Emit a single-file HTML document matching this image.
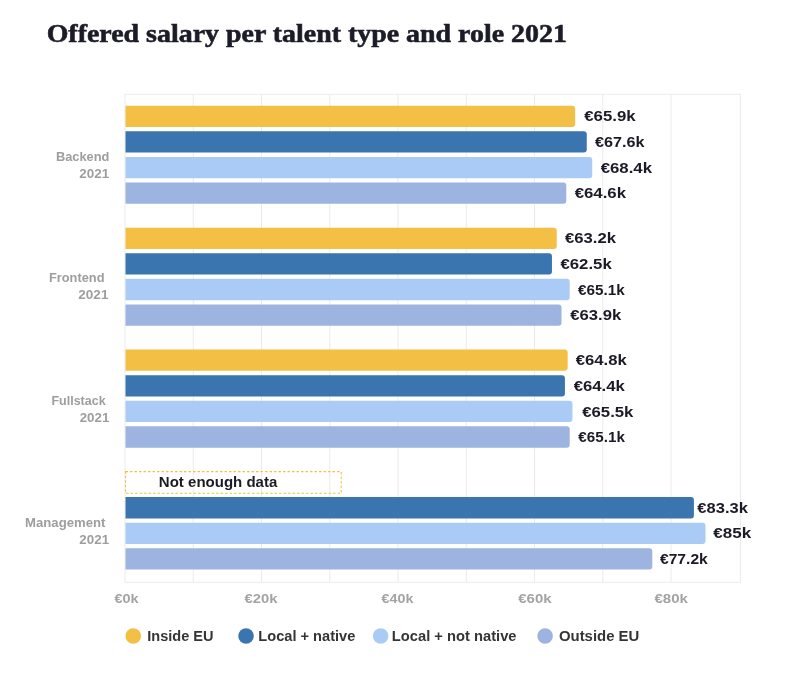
<!DOCTYPE html>
<html><head><meta charset="utf-8"><style>
html,body{margin:0;padding:0;background:#fff;}
body{width:796px;height:675px;overflow:hidden;position:relative;}
svg{position:absolute;left:0;top:0;filter:blur(0.35px);}
text{font-family:"Liberation Sans",sans-serif;font-weight:bold;}
.title{font-family:"Liberation Serif",serif;font-size:26px;}
.val{font-size:14px;}
.ylab{font-size:12px;}
.xlab{font-size:12px;}
.ned{font-size:14px;}
.leg{font-size:14px;}

</style></head><body>
<svg width="796" height="675" viewBox="0 0 796 675">
<g stroke="#ebebeb" stroke-width="1"><line x1="125.00" y1="94.3" x2="125.00" y2="582.3"/><line x1="193.25" y1="94.3" x2="193.25" y2="582.3"/><line x1="261.50" y1="94.3" x2="261.50" y2="582.3"/><line x1="329.75" y1="94.3" x2="329.75" y2="582.3"/><line x1="398.00" y1="94.3" x2="398.00" y2="582.3"/><line x1="466.25" y1="94.3" x2="466.25" y2="582.3"/><line x1="534.50" y1="94.3" x2="534.50" y2="582.3"/><line x1="602.75" y1="94.3" x2="602.75" y2="582.3"/><line x1="671.00" y1="94.3" x2="671.00" y2="582.3"/><line x1="740.40" y1="94.3" x2="740.40" y2="582.3"/><line x1="124.5" y1="94.3" x2="740.9" y2="94.3"/><line x1="124.5" y1="582.3" x2="740.9" y2="582.3"/></g>
<path fill="#F3C045" d="M125.50 105.72H572.17A3 3 0 0 1 575.17 108.72V124.02A3 3 0 0 1 572.17 127.02H125.50Z"/><path fill="#3A75AF" d="M125.50 131.32H583.77A3 3 0 0 1 586.77 134.32V149.62A3 3 0 0 1 583.77 152.62H125.50Z"/><path fill="#A9CBF5" d="M125.50 156.92H589.23A3 3 0 0 1 592.23 159.92V175.22A3 3 0 0 1 589.23 178.22H125.50Z"/><path fill="#9EB4E0" d="M125.50 182.52H563.29A3 3 0 0 1 566.29 185.52V200.82A3 3 0 0 1 563.29 203.82H125.50Z"/><path fill="#F3C045" d="M125.50 227.64H553.74A3 3 0 0 1 556.74 230.64V245.94A3 3 0 0 1 553.74 248.94H125.50Z"/><path fill="#3A75AF" d="M125.50 253.24H548.96A3 3 0 0 1 551.96 256.24V271.54A3 3 0 0 1 548.96 274.54H125.50Z"/><path fill="#A9CBF5" d="M125.50 278.84H566.71A3 3 0 0 1 569.71 281.84V297.14A3 3 0 0 1 566.71 300.14H125.50Z"/><path fill="#9EB4E0" d="M125.50 304.44H558.52A3 3 0 0 1 561.52 307.44V322.74A3 3 0 0 1 558.52 325.74H125.50Z"/><path fill="#F3C045" d="M125.50 349.56H564.66A3 3 0 0 1 567.66 352.56V367.86A3 3 0 0 1 564.66 370.86H125.50Z"/><path fill="#3A75AF" d="M125.50 375.16H561.93A3 3 0 0 1 564.93 378.16V393.46A3 3 0 0 1 561.93 396.46H125.50Z"/><path fill="#A9CBF5" d="M125.50 400.76H569.44A3 3 0 0 1 572.44 403.76V419.06A3 3 0 0 1 569.44 422.06H125.50Z"/><path fill="#9EB4E0" d="M125.50 426.36H566.71A3 3 0 0 1 569.71 429.36V444.66A3 3 0 0 1 566.71 447.66H125.50Z"/><path fill="#3A75AF" d="M125.50 497.08H690.92A3 3 0 0 1 693.92 500.08V515.38A3 3 0 0 1 690.92 518.38H125.50Z"/><path fill="#A9CBF5" d="M125.50 522.68H702.52A3 3 0 0 1 705.52 525.68V540.98A3 3 0 0 1 702.52 543.98H125.50Z"/><path fill="#9EB4E0" d="M125.50 548.28H649.29A3 3 0 0 1 652.29 551.28V566.58A3 3 0 0 1 649.29 569.58H125.50Z"/>
<rect x="125.5" y="471.65" width="215.7" height="21.65" fill="none" stroke="#F3C045" stroke-width="1.1" stroke-dasharray="2.5 2"/>
<circle cx="133.25" cy="636.05" r="7.8" fill="#F3C045"/>
<circle cx="246.05" cy="636.05" r="7.8" fill="#3A75AF"/>
<circle cx="380.65" cy="636.05" r="7.8" fill="#A9CBF5"/>
<circle cx="545.1" cy="636.05" r="7.8" fill="#9EB4E0"/>
<text class="title" x="48" y="42.3" fill="#1c1c29" stroke="#1c1c29" stroke-width="0.6" transform="matrix(1.0739 0 0 1 -4.888 0)">Offered salary per talent type and role 2021</text>
<text class="ylab" x="56.6" y="160.6" fill="#9e9e9e" transform="matrix(1.0708 0 0 1 -4.702 0)">Backend</text>
<text class="ylab" x="79.7" y="177.7" fill="#9e9e9e" transform="matrix(1.1200 0 0 1 -9.900 0)">2021</text>
<text class="ylab" x="49.5" y="282.3" fill="#9e9e9e" transform="matrix(1.0686 0 0 1 -3.931 0)">Frontend</text>
<text class="ylab" x="78.7" y="299.2" fill="#9e9e9e" transform="matrix(1.1276 0 0 1 -10.382 0)">2021</text>
<text class="ylab" x="52.1" y="404.9" fill="#9e9e9e" transform="matrix(1.0427 0 0 1 -2.903 0)">Fullstack</text>
<text class="ylab" x="80" y="422" fill="#9e9e9e" transform="matrix(1.1086 0 0 1 -8.963 0)">2021</text>
<text class="ylab" x="25.7" y="526.6" fill="#9e9e9e" transform="matrix(1.0955 0 0 1 -3.058 0)">Management</text>
<text class="ylab" x="79.7" y="543.7" fill="#9e9e9e" transform="matrix(1.1124 0 0 1 -9.290 0)">2021</text>
<text class="val" x="584.4" y="121.47" fill="#1b1b27" transform="matrix(1.2000 0 0 1 -117.000 0)">€65.9k</text>
<text class="val" x="595" y="147.07" fill="#1b1b27" transform="matrix(1.1556 0 0 1 -92.556 0)">€67.6k</text>
<text class="val" x="600.7" y="172.67" fill="#1b1b27" transform="matrix(1.2000 0 0 1 -120.200 0)">€68.4k</text>
<text class="val" x="574.7" y="198.27" fill="#1b1b27" transform="matrix(1.2000 0 0 1 -115.000 0)">€64.6k</text>
<text class="val" x="565" y="243.39" fill="#1b1b27" transform="matrix(1.1930 0 0 1 -109.035 0)">€63.2k</text>
<text class="val" x="560.6" y="268.99" fill="#1b1b27" transform="matrix(1.2000 0 0 1 -112.300 0)">€62.5k</text>
<text class="val" x="578" y="294.59" fill="#1b1b27" transform="matrix(1.0901 0 0 1 -52.054 0)">€65.1k</text>
<text class="val" x="570.4" y="320.19" fill="#1b1b27" transform="matrix(1.1906 0 0 1 -108.862 0)">€63.9k</text>
<text class="val" x="575.8" y="365.31" fill="#1b1b27" transform="matrix(1.1906 0 0 1 -109.713 0)">€64.8k</text>
<text class="val" x="573.7" y="390.91" fill="#1b1b27" transform="matrix(1.1930 0 0 1 -110.774 0)">€64.4k</text>
<text class="val" x="582.4" y="416.51" fill="#1b1b27" transform="matrix(1.1953 0 0 1 -113.875 0)">€65.5k</text>
<text class="val" x="578.3" y="442.11" fill="#1b1b27" transform="matrix(1.0854 0 0 1 -49.321 0)">€65.1k</text>
<text class="val" x="697.3" y="512.8299999999999" fill="#1b1b27" transform="matrix(1.1813 0 0 1 -126.352 0)">€83.3k</text>
<text class="val" x="713.4" y="538.43" fill="#1b1b27" transform="matrix(1.2161 0 0 1 -154.308 0)">€85k</text>
<text class="val" x="660" y="564.03" fill="#1b1b27" transform="matrix(1.1181 0 0 1 -77.965 0)">€77.2k</text>
<text class="xlab" x="114.5" y="603.2" fill="#a3a3a3" transform="matrix(1.2050 0 0 1 -23.472 0)">€0k</text>
<text class="xlab" x="244.7" y="603.2" fill="#a3a3a3" transform="matrix(1.2336 0 0 1 -57.235 0)">€20k</text>
<text class="xlab" x="381.4" y="603.2" fill="#a3a3a3" transform="matrix(1.1926 0 0 1 -73.276 0)">€40k</text>
<text class="xlab" x="518.1" y="603.2" fill="#a3a3a3" transform="matrix(1.2486 0 0 1 -128.674 0)">€60k</text>
<text class="xlab" x="654.5" y="603.2" fill="#a3a3a3" transform="matrix(1.2523 0 0 1 -165.154 0)">€80k</text>
<text class="ned" x="159.7" y="487" fill="#1b1b27" transform="matrix(1.0733 0 0 1 -12.572 0)">Not enough data</text>
<text class="leg" x="148.3" y="641.2" fill="#353535" transform="matrix(1.0394 0 0 1 -6.824 0)">Inside EU</text>
<text class="leg" x="259.3" y="641.2" fill="#353535" transform="matrix(1.0452 0 0 1 -12.722 0)">Local + native</text>
<text class="leg" x="392.7" y="641.2" fill="#353535" transform="matrix(1.0511 0 0 1 -20.894 0)">Local + not native</text>
<text class="leg" x="559.5" y="641.2" fill="#353535" transform="matrix(1.0653 0 0 1 -37.079 0)">Outside EU</text>
</svg>
</body></html>
